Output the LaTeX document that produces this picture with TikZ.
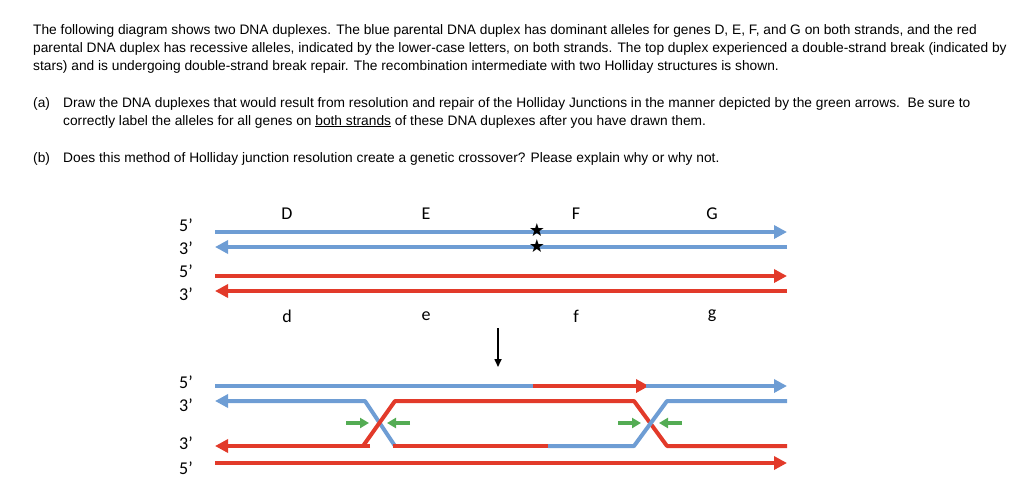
\documentclass[tikz,border=0pt]{standalone}
\usepackage{fontspec}
\setmainfont{Liberation Sans}
\newfontfamily\calfont{Carlito}
\newfontfamily\symfont{DejaVu Sans}
\usetikzlibrary{arrows.meta}
\definecolor{dblue}{RGB}{110,157,212}
\definecolor{dred}{RGB}{226,58,42}
\definecolor{dgreen}{RGB}{84,172,84}
\tikzset{
 txt/.style={anchor=base west,inner sep=0pt,font=\fontsize{13.75}{16}\selectfont},
 lab/.style={inner sep=0pt,font=\calfont\fontsize{18}{20}\selectfont},
 strand/.style={line width=4pt},
 tip/.style={-{Triangle[length=13pt,width=13pt]}},
 gr/.style={dgreen,line width=3.5pt,-{Triangle[length=9pt,width=10pt]}},
 star/.style={font=\symfont\fontsize{18}{18}\selectfont,inner sep=0pt}
}
\begin{document}
\begin{tikzpicture}[x=1pt,y=-1pt]
\useasboundingbox (0,0) rectangle (1024,490);
\node[txt] (t1) at (33,34) {The following diagram shows two DNA duplexes. The blue parental DNA duplex has dominant alleles for genes D, E, F, and G on both strands, and the red};
\node[txt] (t2) at (33,52) {parental DNA duplex has recessive alleles, indicated by the lower-case letters, on both strands. The top duplex experienced a double-strand break (indicated by};
\node[txt] (t3) at (33,70) {stars) and is undergoing double-strand break repair. The recombination intermediate with two Holliday structures is shown.};
\node[txt] (a1) at (33,107) {(a)};
\node[txt] (a2) at (63,107) {Draw the DNA duplexes that would result from resolution and repair of the Holliday Junctions in the manner depicted by the green arrows.\ \ Be sure to};
\node[txt] (a3) at (63,125) {correctly label the alleles for all genes on \underline{both strands} of these DNA duplexes after you have drawn them.};
\node[txt] (b1) at (33,162) {(b)};
\node[txt] (b2) at (63,162) {Does this method of Holliday junction resolution create a genetic crossover? Please explain why or why not.};
\node[lab] (p1) at (186,225) {5’};
\node[lab] (p2) at (186,248) {3’};
\node[lab] (p3) at (186,271) {5’};
\node[lab] (p4) at (186,294) {3’};
\coordinate (b1s) at (215,232); \coordinate (b1e) at (787,232);
\coordinate (b2s) at (215,247); \coordinate (b2e) at (787,247);
\coordinate (r1s) at (215,276); \coordinate (r1e) at (787,276);
\coordinate (r2s) at (215,291); \coordinate (r2e) at (787,291);
\draw[strand,dblue,tip] (b1s) -- (b1e);
\draw[strand,dblue,tip] (b2e) -- (b2s);
\draw[strand,dred,tip] (r1s) -- (r1e);
\draw[strand,dred,tip] (r2e) -- (r2s);
\node[star] (s1) at (537,230) {★};
\node[star] (s2) at (537,246) {★};
\foreach \nm/\t/\x in {gD/D/287,gE/E/426,gF/F/576,gG/G/712}{\node[lab] (\nm) at (\x,214) {\t};}
\foreach \nm/\t/\x in {gd/d/287,ge/e/426,gf/f/576,gg/g/712}{\node[lab] (\nm) at (\x,316) {\t};}
\coordinate (da) at (498,328); \coordinate (db) at (498,367);
\draw[line width=1.6pt,-{Triangle[length=8pt,width=7pt]}] (da) -- (db);
\node[lab] (q1) at (186,382) {5’};
\node[lab] (q2) at (186,405) {3’};
\node[lab] (q3) at (186,443) {3’};
\node[lab] (q4) at (186,468) {5’};
\draw[strand,dblue] (215,386) -- (535,386);
\draw[strand,dred,tip] (533,386) -- (649,386);
\draw[strand,dblue,tip] (646,386) -- (787,386);
\draw[strand,dblue,tip,line join=round] (395,446) -- (365,401) -- (215,401);
\draw[strand,dred,line join=round] (363,446) -- (395,401) -- (634,401) -- (667,446) -- (787,446);
\draw[strand,dred,tip] (370,446) -- (215,446);
\draw[strand,dred] (393,446) -- (550,446);
\draw[strand,dblue,line join=round] (548,446) -- (634,446) -- (667,401) -- (787,401);
\draw[strand,dred,tip] (215,463) -- (787,463);
\draw[gr] (346,423) -- (369,423);
\draw[gr] (410,423) -- (387,423);
\draw[gr] (618,423) -- (641,423);
\draw[gr] (682,423) -- (659,423);
\end{tikzpicture}
\end{document}
